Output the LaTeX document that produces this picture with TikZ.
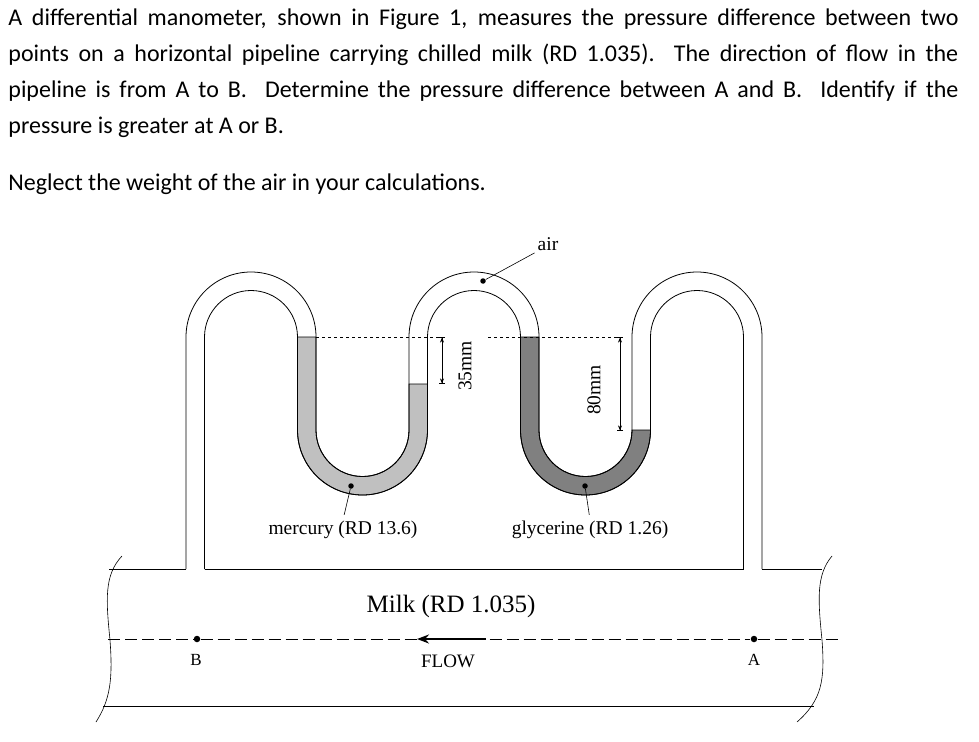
\documentclass[tikz,border=0pt]{standalone}
\usepackage{fontspec}
\setmainfont{Liberation Serif}
\newfontfamily\bodyfont{Carlito}
\usetikzlibrary{arrows.meta}
\begin{document}
\begin{tikzpicture}[x=1pt,y=-1pt,line width=0.8pt,
  para/.style={anchor=west,inner sep=0pt,font=\bodyfont\fontsize{24}{28}\selectfont},
  lab/.style={inner sep=1pt,font=\fontsize{19.5}{22}\selectfont},
  dotp/.style={circle,fill,inner sep=0pt,minimum size=6.5pt},
  dim/.style={{Bar[width=6pt]Stealth[length=5pt,width=4pt]}-{Stealth[length=5pt,width=4pt]Bar[width=6pt]},line width=0.6pt},
  lead/.style={line width=0.6pt,shorten >=5pt},
  tube/.style={line width=0.8pt}]
\useasboundingbox (0,0) rectangle (979,741);
% paragraph
\node[para] (l1) at (8,19) {\makebox[950pt][s]{A differential manometer, shown in Figure 1, measures the pressure difference between two}};
\node[para] (l2) at (8,55) {\makebox[950pt][s]{points on a horizontal pipeline carrying chilled milk (RD 1.035).\ \ The direction of flow in the}};
\node[para] (l3) at (8,91) {\makebox[950pt][s]{pipeline is from A to B.\ \ Determine the pressure difference between A and B.\ \ Identify if the}};
\node[para] (l4) at (8,127) {pressure is greater at A or B.};
\node[para] (l5) at (8,184) {Neglect the weight of the air in your calculations.};
% fluids
\fill[fill={rgb,255:red,192;green,192;blue,192},draw] (297.5,337) -- (297.5,430) arc(180:0:65) -- (427.5,384) -- (409,384) -- (409,430) arc(0:180:46.5) -- (316,337) -- cycle;
\fill[fill={rgb,255:red,128;green,128;blue,128},draw] (520.5,337) -- (520.5,430) arc(180:0:65) -- (650.5,430) -- (632,430) arc(0:180:46.5) -- (539,337) -- cycle;
% tube outlines
\draw[tube] (186,569) -- (186,337) arc(180:360:65) -- (316,430) arc(180:0:46.5) -- (409,337) arc(180:360:65) -- (539,430) arc(180:0:46.5) -- (632,337) arc(180:360:65) -- (762,569);
\draw[tube] (204.5,569) -- (204.5,337) arc(180:360:46.5) -- (297.5,430) arc(180:0:65) -- (427.5,337) arc(180:360:46.5) -- (520.5,430) arc(180:0:65) -- (650.5,337) arc(180:360:46.5) -- (743.5,569);
% dashed levels and dimensions
\draw[dashed,line width=0.6pt] (316,337) -- (442,337);
\draw[dashed,line width=0.6pt] (488,337) -- (620,337);
\coordinate (d1a) at (442,337); \coordinate (d1b) at (442,384);
\coordinate (d2a) at (620,337); \coordinate (d2b) at (620,431);
\draw[dim] (d1a) -- (d1b);
\draw[dim] (d2a) -- (d2b);
\node[lab,rotate=90] (t35) at (465,366) {35mm};
\node[lab,rotate=90] (t80) at (594,390) {80mm};
% labels
\node[lab] (merc) at (343,530) {mercury (RD 13.6)};
\node[lab] (glyc) at (590,530) {glycerine (RD 1.26)};
\node[lab] (air) at (548,244) {air};
\node[dotp,minimum size=5.5pt] (dm) at (351,486) {};
\node[dotp,minimum size=5.5pt] (dg) at (585,486) {};
\node[dotp,minimum size=5.5pt] (da) at (483,281) {};
\draw[lead] (dm) -- (merc.north);
\draw[lead] (dg) -- (glyc.north);
\draw[lead,shorten >=2pt] (da) -- (air.south west);
% pipe
\draw[tube] (109,569) -- (186,569);
\draw[tube] (204.5,569) -- (743.5,569);
\draw[tube] (762,569) -- (822,569);
\draw[tube] (103,706) -- (814,706);
\draw[line width=0.6pt] (122,556) .. controls (104,575) and (106,600) .. (110,640) .. controls (113,680) and (110,700) .. (96,722);
\draw[line width=0.6pt] (832,556) .. controls (816,575) and (818,600) .. (822,640) .. controls (825,680) and (822,700) .. (797,722);
\node[dotp] (B) at (197,639) {};
\node[dotp] (A) at (754,639) {};
\draw[dash pattern=on 12pt off 5pt,line width=0.8pt] (108,639) -- (B) -- (A) -- (840,639);
\node[lab,font=\fontsize{17}{19}\selectfont] (Bl) at (196,660) {B};
\node[lab,font=\fontsize{17}{19}\selectfont] (Al) at (754,660) {A};
\coordinate (fs) at (486,639); \coordinate (fe) at (417,639);
\draw[-{Stealth[length=12pt,width=9pt]},line width=2.8pt] (fs) -- (fe);
\node[lab,font=\fontsize{19}{21}\selectfont] (flow) at (448,661) {FLOW};
\node[lab,font=\fontsize{25}{28}\selectfont] (milk) at (451,606) {Milk (RD 1.035)};
\end{tikzpicture}
\end{document}
